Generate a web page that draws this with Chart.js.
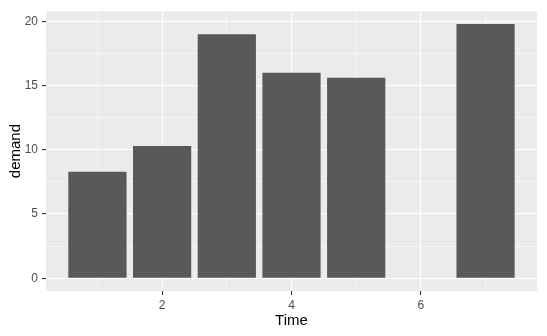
<!DOCTYPE html>
<html>
<head>
<meta charset="utf-8">
<script src="https://cdn.jsdelivr.net/npm/chart.js@4"></script>
<style>
  html, body { margin: 0; padding: 0; background: #ffffff; }
  #wrap { width: 547px; height: 336px; }
</style>
</head>
<body>
<div id="wrap"><canvas id="myChart" width="547" height="336"></canvas></div>
<script>
// BOD data
let time = [1, 2, 3, 4, 5, 7]
let demand = [8.3, 10.3, 19.0, 16.0, 15.6, 19.8]
let xTicks = [1, 2, 3, 4, 5, 6, 7]
let xLabels = [2, 4, 6]
let yTicks = [0, 2.5, 5, 7.5, 10, 12.5, 15, 17.5, 20]
let yLabels = [0, 5, 10, 15, 20]

let points = []
for (let i = 0; i < time.length; i++) {
    points.push({x: time[i], y: demand[i]})
}

// grey panel behind the grid
const panelBg = {
    id: "panelBg",
    beforeDraw(chart) {
        let a = chart.chartArea
        let ctx = chart.ctx
        ctx.save()
        ctx.fillStyle = "#EBEBEB"
        ctx.fillRect(a.left, a.top, a.right - a.left, a.bottom - a.top)
        ctx.restore()
    }
}

function isMajor(list, ctx) {
    return ctx.tick && list.includes(ctx.tick.value)
}

let chart = new Chart(document.getElementById("myChart").getContext("2d"), {
    type: "bar",
    data: {
        datasets: [{
            label: "demand",
            data: points,
            backgroundColor: "#595959",
            borderWidth: 0,
            barPercentage: 0.9,
            categoryPercentage: 1
        }]
    },
    options: {
        responsive: false,
        animation: false,
        events: [],
        layout: {padding: {top: 7, right: 10, left: 0, bottom: 0}},
        plugins: {legend: {display: false}, tooltip: {enabled: false}},
        scales: {
            x: {
                type: "linear",
                offset: false,
                min: 0.205,
                max: 7.795,
                afterBuildTicks: s => { s.ticks = xTicks.map(v => ({value: v})) },
                afterFit: s => { s.height = 45 },
                border: {display: false},
                grid: {
                    offset: false,
                    color: "#ffffff",
                    lineWidth: c => isMajor(xLabels, c) ? 1.1 : 0.55,
                    tickColor: c => isMajor(xLabels, c) ? "#333333" : "rgba(0,0,0,0)",
                    tickWidth: 1.1,
                    tickLength: 4
                },
                ticks: {
                    autoSkip: false,
                    maxRotation: 0,
                    padding: 3,
                    color: "#4D4D4D",
                    font: {family: "Liberation Sans", size: 12},
                    callback: v => xLabels.includes(v) ? String(v) : ""
                },
                title: {
                    display: true,
                    text: "Time",
                    color: "#000000",
                    font: {family: "Liberation Sans", size: 15},
                    padding: {top: 0, bottom: 6}
                }
            },
            y: {
                min: -0.99,
                max: 20.79,
                afterBuildTicks: s => { s.ticks = yTicks.map(v => ({value: v})) },
                afterFit: s => { s.width = 46 },
                border: {display: false},
                grid: {
                    color: "#ffffff",
                    lineWidth: c => isMajor(yLabels, c) ? 1.1 : 0.55,
                    tickColor: c => isMajor(yLabels, c) ? "#333333" : "rgba(0,0,0,0)",
                    tickWidth: 1.1,
                    tickLength: 4
                },
                ticks: {
                    autoSkip: false,
                    padding: 4,
                    color: "#4D4D4D",
                    font: {family: "Liberation Sans", size: 12},
                    callback: v => yLabels.includes(v) ? String(v) : ""
                },
                title: {
                    display: true,
                    text: "demand",
                    color: "#000000",
                    font: {family: "Liberation Sans", size: 15},
                    padding: {top: 7, bottom: 0}
                }
            }
        }
    },
    plugins: [panelBg]
})
</script>
</body>
</html>
